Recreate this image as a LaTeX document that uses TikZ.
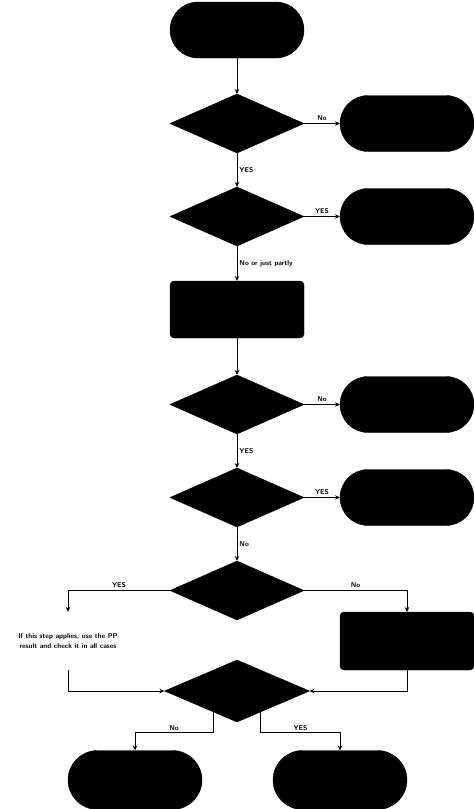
\documentclass[tikz,border=0pt]{standalone}
\usepackage{tikz}
\usetikzlibrary{positioning, shapes.geometric, shapes.misc, arrows.meta, calc}

\tikzset{
  term/.style={draw, fill=black, rounded rectangle, minimum width=134pt, minimum height=56pt, inner sep=0pt, outer sep=0pt},
  dec/.style={draw, fill=black, diamond, minimum width=134pt, minimum height=59pt, inner sep=0pt, outer sep=0pt},
  act/.style={draw, fill=black, rectangle, rounded corners=4pt, minimum width=134pt, minimum height=57pt, inner sep=0pt, outer sep=0pt},
  arr/.style={->, >={Stealth[length=5pt, width=4.5pt]}, line width=0.9pt},
  lbl/.style={font=\fontsize{7}{8}\selectfont\sffamily\bfseries, inner sep=2pt}
}

\begin{document}
\begin{tikzpicture}[x=1pt, y=-1pt, node distance=34pt and 36pt]
\useasboundingbox (0,0) rectangle (474,809);

\node[term] (start) at (237,30) {};
\node[dec, below=36pt of start] (q1) {};
\node[term, right=of q1] (stop1) {};
\node[dec, below=of q1] (q2) {};
\node[term, right=of q2] (stop2) {};
\node[act, below=35pt of q2] (step1) {};
\node[dec, below=37pt of step1] (q3) {};
\node[term, right=of q3] (stop3) {};
\node[dec, below=of q3] (q4) {};
\node[term, right=of q4] (stop4) {};
\node[dec, below=of q4] (q5) {};
\node[act, minimum height=58pt] (step2) at (407,641) {};
\node[lbl, align=center, font=\fontsize{7}{10}\selectfont\sffamily\bfseries, minimum height=58pt] (note) at (68,641) {If this step applies, use the PP\\result and check it in all cases};
\node[dec, minimum width=145pt, minimum height=62pt, below=40pt of q5] (q6) {};
\node[term, minimum height=59pt] (endL) at (135,780) {};
\node[term, minimum height=59pt] (endR) at (340,780) {};

\draw[arr] (start) -- (q1);
\draw[arr] (q1) -- node[lbl, above] {No} (stop1);
\draw[arr] (q1) -- node[lbl, right] {YES} (q2);
\draw[arr] (q2) -- node[lbl, above] {YES} (stop2);
\draw[arr] (q2) -- node[lbl, right] {No or just partly} (step1);
\draw[arr] (step1) -- (q3);
\draw[arr] (q3) -- node[lbl, above] {No} (stop3);
\draw[arr] (q3) -- node[lbl, right] {YES} (q4);
\draw[arr] (q4) -- node[lbl, above] {YES} (stop4);
\draw[arr] (q4) -- node[lbl, right] {No} (q5);
\draw[arr] (q5.west) -| node[lbl, pos=0.25, above] {YES} (note.north);
\draw[arr] (q5.east) -| node[lbl, pos=0.25, above] {No} (step2.north);
\draw[arr] (note.south) |- (q6.west);
\draw[arr] (step2.south) |- (q6.east);
\draw[arr] ($(q6.south)!0.33!(q6.west)$) -- ++(0,21) -| node[lbl, pos=0.25, above] {No} (endL.north);
\draw[arr] ($(q6.south)!0.33!(q6.east)$) -- ++(0,21) -| node[lbl, pos=0.25, above] {YES} (endR.north);
\end{tikzpicture}
\end{document}
